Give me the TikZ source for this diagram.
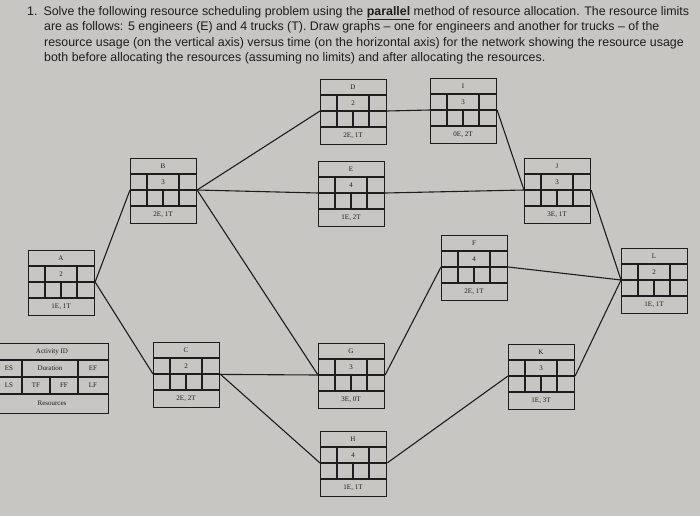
\documentclass[tikz,border=0pt]{standalone}
\usepackage{fontspec}
\setmainfont{Liberation Serif}
\newfontfamily\hdfont{Liberation Sans}
\definecolor{paper}{RGB}{200,198,194}
\definecolor{ink}{RGB}{30,28,30}
\newcommand\actbox[6]{%
  \node[draw=ink,line width=1.1pt,minimum width=66pt,minimum height=65pt,inner sep=0pt,anchor=north west] (#1) at (#2,#3) {};
  \begin{scope}[shift={(#1.north west)},ink,line width=1.1pt]
    \draw (0,16)--(66,16) (0,32)--(66,32) (0,48)--(66,48);
    \draw (17,16)--(17,48) (49,16)--(49,48) (33,32)--(33,48);
    \node[lbl] at (33,8) {#4};
    \node[lbl] at (33,24) {#5};
    \node[lbl] at (33,56.5) {#6};
  \end{scope}
  \coordinate (#1w) at ([yshift=-32pt]#1.north west);
  \coordinate (#1e) at ([yshift=-32pt]#1.north east);
}
\begin{document}
\begin{tikzpicture}[x=1pt,y=-1pt,lbl/.style={font=\fontsize{7}{8}\selectfont,text=ink,inner sep=0pt},
  edge/.style={ink,line width=1.1pt}]
\fill[paper] (0,0) rectangle (700,516);
\useasboundingbox (0,0) rectangle (700,516);
\node[anchor=north west,align=left,text=ink,font=\hdfont\fontsize{12.4}{15.5}\selectfont,inner sep=0pt] (hdr) at (27,6)
{1.\hspace{6pt}Solve the following resource scheduling problem using the \underline{\textbf{parallel}} method of resource allocation. The resource limits\\
\hspace{17pt}are as follows: 5 engineers (E) and 4 trucks (T). Draw graphs \textendash{} one for engineers and another for trucks \textendash{} of the\\
\hspace{17pt}resource usage (on the vertical axis) versus time (on the horizontal axis) for the network showing the resource usage\\
\hspace{17pt}both before allocating the resources (assuming no limits) and after allocating the resources.};
\actbox{D}{320}{79}{D}{2}{2E, 1T}
\actbox{I}{430}{78}{I}{3}{0E, 2T}
\actbox{B}{130}{158}{B}{3}{2E, 1T}
\actbox{E}{318}{161}{E}{4}{1E, 2T}
\actbox{J}{524}{158}{J}{3}{3E, 1T}
\actbox{F}{441}{235}{F}{4}{2E, 1T}
\actbox{A}{28}{250}{A}{2}{1E, 1T}
\actbox{L}{621}{248}{L}{2}{1E, 1T}
\actbox{C}{153}{342}{C}{2}{2E, 2T}
\actbox{G}{318}{343}{G}{3}{3E, 0T}
\actbox{K}{508}{344}{K}{3}{1E, 3T}
\actbox{H}{320}{431}{H}{4}{1E, 1T}
% legend
\node[draw=ink,line width=1.1pt,minimum width=112pt,minimum height=70pt,inner sep=0pt,anchor=north west] (leg) at (-4,343) {};
\begin{scope}[shift={(leg.north west)},ink,line width=1.1pt]
  \draw (0,17)--(112,17) (0,34)--(112,34) (0,51)--(112,51);
  \draw (26,17)--(26,51) (82,17)--(82,51) (54,34)--(54,51);
  \node[lbl] at (56,8.5) {Activity ID};
  \node[lbl] at (13,25.5) {ES};
  \node[lbl] at (54,25.5) {Duration};
  \node[lbl] at (97,25.5) {EF};
  \node[lbl] at (13,42.5) {LS};
  \node[lbl] at (40,42.5) {TF};
  \node[lbl] at (68,42.5) {FF};
  \node[lbl] at (97,42.5) {LF};
  \node[lbl] at (56,60.5) {Resources};
\end{scope}
% edges
\draw[edge] (Ae)--(Bw);
\draw[edge] (Ae)--(Cw);
\draw[edge] (Be)--(Dw);
\draw[edge] (Be)--(Ew);
\draw[edge] (Ee)--(Jw);
\draw[edge] (Be)--(Gw);
\draw[edge] (Cw)--(Gw);
\draw[edge] (Ce)--(Hw);
\draw[edge] (De)--(Iw);
\draw[edge] (Ie)--(Jw);
\draw[edge] (Ge)--(Fw);
\draw[edge] (Fe)--(Lw);
\draw[edge] (Je)--(Lw);
\draw[edge] (He)--(Kw);
\draw[edge] (Ke)--(Lw);
\end{tikzpicture}
\end{document}
